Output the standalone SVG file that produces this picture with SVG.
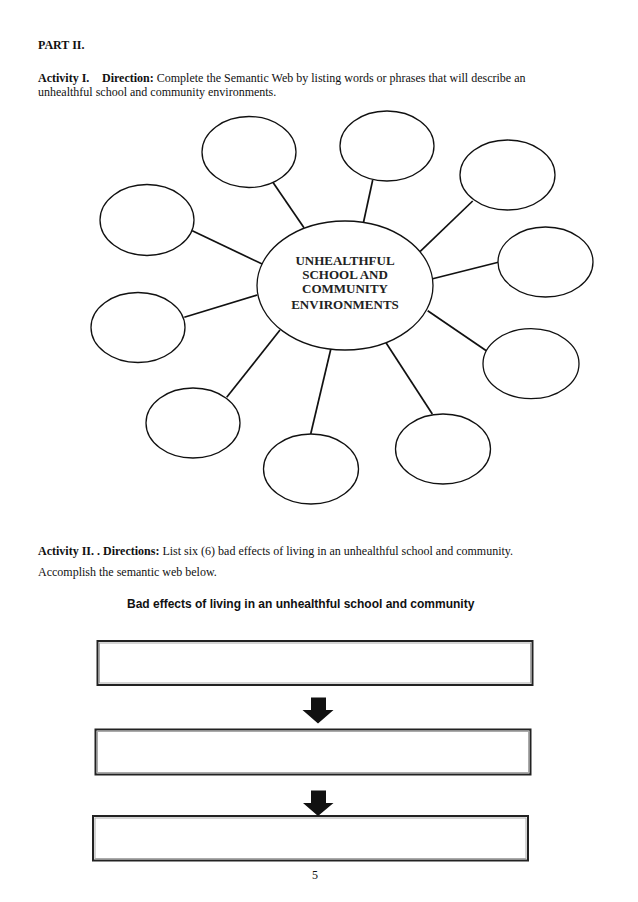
<svg xmlns="http://www.w3.org/2000/svg" width="638" height="902" viewBox="0 0 638 902">
<style>
.t{font-family:"Liberation Serif","Times New Roman",serif;font-size:12px;fill:#111}
.b{font-weight:bold}
.c{font-family:"Liberation Serif","Times New Roman",serif;font-size:13px;font-weight:bold;fill:#222;text-anchor:middle}
.h{font-family:"Liberation Sans",Arial,sans-serif;font-size:12px;font-weight:bold;fill:#111}
.e{fill:#fff;stroke:#111;stroke-width:1.3}
.l{stroke:#111;stroke-width:1.7;fill:none}
.bo{fill:#fff;stroke:#222;stroke-width:2}
.bi{fill:none;stroke:#aaa;stroke-width:1}
.ar{fill:#111}
</style>
<rect width="638" height="902" fill="#fff"/>
<text class="t b" x="38" y="49">PART II.</text>
<text class="t" x="38" y="82"><tspan class="b">Activity I.</tspan><tspan x="102" class="b">Direction:</tspan> Complete the Semantic Web by listing words or phrases that will describe an</text>
<text class="t" x="38" y="96">unhealthful school and community environments.</text>

<g id="connectors">
<line class="l" x1="265.7" y1="171.7" x2="304" y2="227.7"/>
<line class="l" x1="372.7" y1="180" x2="363.3" y2="223.3"/>
<line class="l" x1="472.7" y1="201" x2="420" y2="251.7"/>
<line class="l" x1="498.3" y1="262.3" x2="431.7" y2="279"/>
<line class="l" x1="192.3" y1="230.7" x2="262.7" y2="264.3"/>
<line class="l" x1="184.3" y1="317.3" x2="257.3" y2="295"/>
<line class="l" x1="226.7" y1="397.3" x2="280" y2="330"/>
<line class="l" x1="310.7" y1="434" x2="331" y2="348.3"/>
<line class="l" x1="432.3" y1="414" x2="386" y2="342.7"/>
<line class="l" x1="486.7" y1="351" x2="427.7" y2="310.7"/>
</g>

<g id="center"><ellipse class="e" cx="345" cy="285.5" rx="88" ry="64.5"/>
<text class="c" x="345" y="264.5">UNHEALTHFUL</text>
<text class="c" x="345" y="278.5">SCHOOL AND</text>
<text class="c" x="345" y="293">COMMUNITY</text>
<text class="c" x="345" y="309">ENVIRONMENTS</text>
</g>
<g id="n1"><ellipse class="e" cx="249" cy="152" rx="47" ry="35.5"/></g>
<g id="n2"><ellipse class="e" cx="387" cy="146" rx="47" ry="35"/></g>
<g id="n3"><ellipse class="e" cx="507.5" cy="175" rx="47.5" ry="35"/></g>
<g id="n4"><ellipse class="e" cx="545.5" cy="262" rx="47.5" ry="35"/></g>
<g id="n5"><ellipse class="e" cx="531" cy="363.7" rx="48" ry="35"/></g>
<g id="n6"><ellipse class="e" cx="443" cy="449" rx="47.5" ry="35"/></g>
<g id="n7"><ellipse class="e" cx="311" cy="469" rx="47.5" ry="35"/></g>
<g id="n8"><ellipse class="e" cx="193" cy="423" rx="47" ry="35"/></g>
<g id="n9"><ellipse class="e" cx="138" cy="327.5" rx="47" ry="35"/></g>
<g id="n10"><ellipse class="e" cx="147" cy="220" rx="47" ry="35.5"/></g>

<text class="t" x="38" y="555"><tspan class="b">Activity II. . Directions:</tspan> List six (6) bad effects of living in an unhealthful school and community.</text>
<text class="t" x="38" y="576">Accomplish the semantic web below.</text>
<text class="h" x="127" y="608">Bad effects of living in an unhealthful school and community</text>

<g id="box1"><rect class="bo" x="97.5" y="641" width="435" height="44"/><rect class="bi" x="99.5" y="643" width="431" height="40"/></g>
<g id="box2"><rect class="bo" x="95.5" y="729.5" width="435" height="45"/><rect class="bi" x="97.5" y="731.5" width="431" height="41"/></g>
<g id="box3"><rect class="bo" x="93" y="816" width="435" height="44.5"/><rect class="bi" x="95" y="818" width="431" height="40.5"/></g>
<g id="arrows">
<polygon class="ar" points="311,697.5 326,697.5 326,710 333.5,710 318,723.5 302.5,710 311,710"/>
<polygon class="ar" points="311,790.5 326,790.5 326,803 333.5,803 318,816 303,803 311,803"/>
</g>
<text class="t" x="315" y="879" text-anchor="middle">5</text>
</svg>
